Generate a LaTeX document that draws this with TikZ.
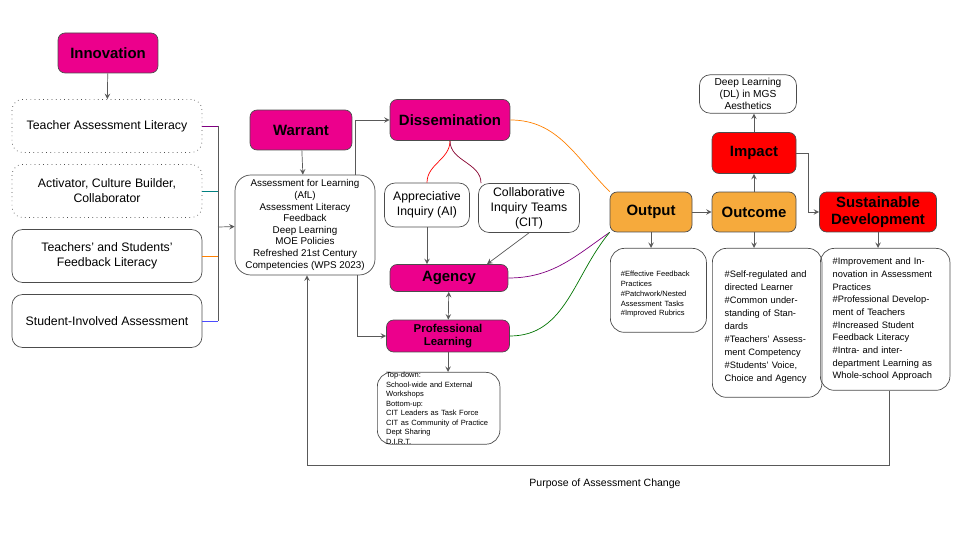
\documentclass[tikz,border=0pt]{standalone}
\usepackage{fontspec}
\setmainfont{Liberation Sans}
\begin{document}
\begin{tikzpicture}[
    x=0.02cm, y=-0.02cm,
    key/.style={rectangle, draw=black!70, rounded corners=4pt, fill=magenta, align=center, font=\bfseries\fontsize{8.5}{10}\selectfont, inner sep=1pt},
    box/.style={rectangle, draw=black!70, rounded corners=6pt, align=center, font=\fontsize{7}{8.5}\selectfont, inner sep=2pt},
    note/.style={rectangle, draw=black!70, rounded corners=8pt, align=left, anchor=north west, inner sep=0pt},
    arrow/.style={->, >=stealth, draw=black!65}
]
\definecolor{outorange}{RGB}{246,170,60}
\useasboundingbox (0,0) rectangle (960,540);

% Left column
\node[key, minimum width=2cm, minimum height=0.8cm] (innov) at (108,53) {Innovation};
\node[box, dotted, minimum width=3.8cm, minimum height=1.06cm] (tal) at (107,126) {Teacher Assessment Literacy};
\node[box, dotted, minimum width=3.8cm, minimum height=1.06cm] (acb) at (107,191) {Activator, Culture Builder,\\Collaborator};
\node[box, minimum width=3.8cm, minimum height=1.06cm] (tsfl) at (107,256) {Teachers' and Students'\\Feedback Literacy};
\node[box, minimum width=3.8cm, minimum height=1.06cm] (sia) at (107,321) {Student-Involved Assessment};
\coordinate (bar) at (218,227);

% Warrant
\node[key, minimum width=2.04cm, minimum height=0.8cm] (warrant) at (301,130) {Warrant};
\node[box, rounded corners=9pt, minimum width=2.8cm, minimum height=2cm, font=\fontsize{5.6}{6.6}\selectfont] (afl) at (305,225) {Assessment for Learning\\(AfL)\\Assessment Literacy\\Feedback\\Deep Learning\\MOE Policies\\Refreshed 21st Century\\Competencies (WPS 2023)};

% Dissemination column
\node[key, minimum width=2.4cm, minimum height=0.82cm] (diss) at (450,120) {Dissemination};
\node[box, minimum width=1.7cm, minimum height=0.88cm] (ai) at (427,205) {Appreciative\\Inquiry (AI)};
\node[box, minimum width=2.02cm, minimum height=0.98cm] (cit) at (529,208) {Collaborative\\Inquiry Teams\\(CIT)};
\node[key, minimum width=2.36cm, minimum height=0.54cm] (agency) at (449,278) {Agency};
\node[key, font=\bfseries\fontsize{6.5}{7.5}\selectfont, minimum width=2.46cm, minimum height=0.64cm] (pl) at (448,336) {Professional\\Learning};
\node[note, minimum width=2.28cm, minimum height=1.34cm, font=\fontsize{4.3}{5.4}\selectfont, text width=2.1cm, inner xsep=5pt] (topdown) at (377,372) {Top-down:\\School-wide and External Workshops\\Bottom-up:\\CIT Leaders as Task Force\\CIT as Community of Practice\\Dept Sharing\\D.I.R.T.};

% Right part
\node[key, fill=outorange, minimum width=1.64cm, minimum height=0.8cm] (output) at (651,212) {Output};
\node[note, minimum width=1.64cm, minimum height=1.68cm, font=\fontsize{4.3}{5.6}\selectfont, text width=1.5cm, inner xsep=6pt] (outtext) at (610,248) {\\[2pt]\#Effective Feedback\\Practices\\\#Patchwork/Nested\\Assessment Tasks\\\#Improved Rubrics};
\node[key, fill=outorange, minimum width=1.68cm, minimum height=0.8cm] (outcome) at (754,212) {Outcome};
\node[note, minimum width=1.92cm, minimum height=2.98cm, font=\fontsize{5.3}{7.4}\selectfont, text width=1.7cm, inner xsep=7pt] (outctext) at (712,248) {\\[1pt]\#Self-regulated and directed Learner\\\#Common understanding of Standards\\\#Teachers' Assessment Competency\\\#Students' Voice, Choice and Agency};
\node[key, fill=red, minimum width=1.68cm, minimum height=0.82cm] (impact) at (754,153) {Impact};
\node[box, minimum width=1.94cm, minimum height=0.64cm, font=\fontsize{5.8}{6.8}\selectfont] (dl) at (748,94) {Deep Learning\\(DL) in MGS\\Aesthetics};
\node[key, fill=red, minimum width=2.34cm, minimum height=0.8cm] (sd) at (878,212) {Sustainable\\Development};
\node[note, minimum width=2.34cm, minimum height=2.84cm, font=\fontsize{5.3}{7.2}\selectfont, text width=2.1cm, inner xsep=7pt] (sdtext) at (820,248) {\#Improvement and Innovation in Assessment Practices\\\#Professional Development of Teachers\\\#Increased Student Feedback Literacy\\\#Intra- and inter-department Learning as Whole-school Approach};
\node[font=\fontsize{6}{7}\selectfont] (purpose) at (605,484) {Purpose of Assessment Change};
\coordinate (loop) at (889,465);

% Arrows - left column
\draw[arrow] (innov) -- (tal);
\draw[violet] (tal.east) -- (tal.east -| bar);
\draw[teal] (acb.east) -- (acb.east -| bar);
\draw[orange] (tsfl.east) -- (tsfl.east -| bar);
\draw[blue!70] (sia.east) -- (sia.east -| bar);
\draw[black!65] (tal.east -| bar) -- (sia.east -| bar);
\draw[arrow] (bar) -- (afl);

% Arrows - warrant and dissemination
\draw[arrow] (warrant) -- (afl);
\draw[arrow] (afl.north -| 355,0) |- (diss.west);
\draw[arrow] (afl.south -| 357,0) |- (pl.west);
\draw[red] (diss.south) to[out=-90,in=90] (ai.north);
\draw[purple!70!black] (diss.south) to[out=-90,in=90] (cit.north west -| 481,0);
\draw[arrow] (ai) -- (agency.north -| ai);
\draw[arrow] (cit.south) -- (agency.north east -| 487,0);
\draw[arrow, <->] (agency) -- (pl);
\draw[arrow] (pl) -- (topdown.north -| pl);

% Curves to output
\draw[orange] (diss.east) to[out=0,in=135] (output.north west);
\draw[violet] (agency.east) to[out=0,in=-145] (output.south west);
\draw[green!45!black] (pl.east) to[out=0,in=-130] (output.south west);

% Arrows - right part
\draw[arrow] (output) -- (outcome);
\draw[arrow] (output) -- (outtext.north -| output);
\draw[arrow] (outcome) -- (outctext.north -| outcome);
\draw[arrow] (outcome) -- (impact);
\draw[arrow] (impact) -- (dl.south -| impact);
\draw[arrow] (impact.east) -- ++(12,0) |- (sd.west);
\draw[arrow] (sd) -- (sdtext.north -| sd);
\draw[arrow] (sdtext.south -| loop) -- (loop) -| (afl.south -| 307,0);
\end{tikzpicture}
\end{document}
